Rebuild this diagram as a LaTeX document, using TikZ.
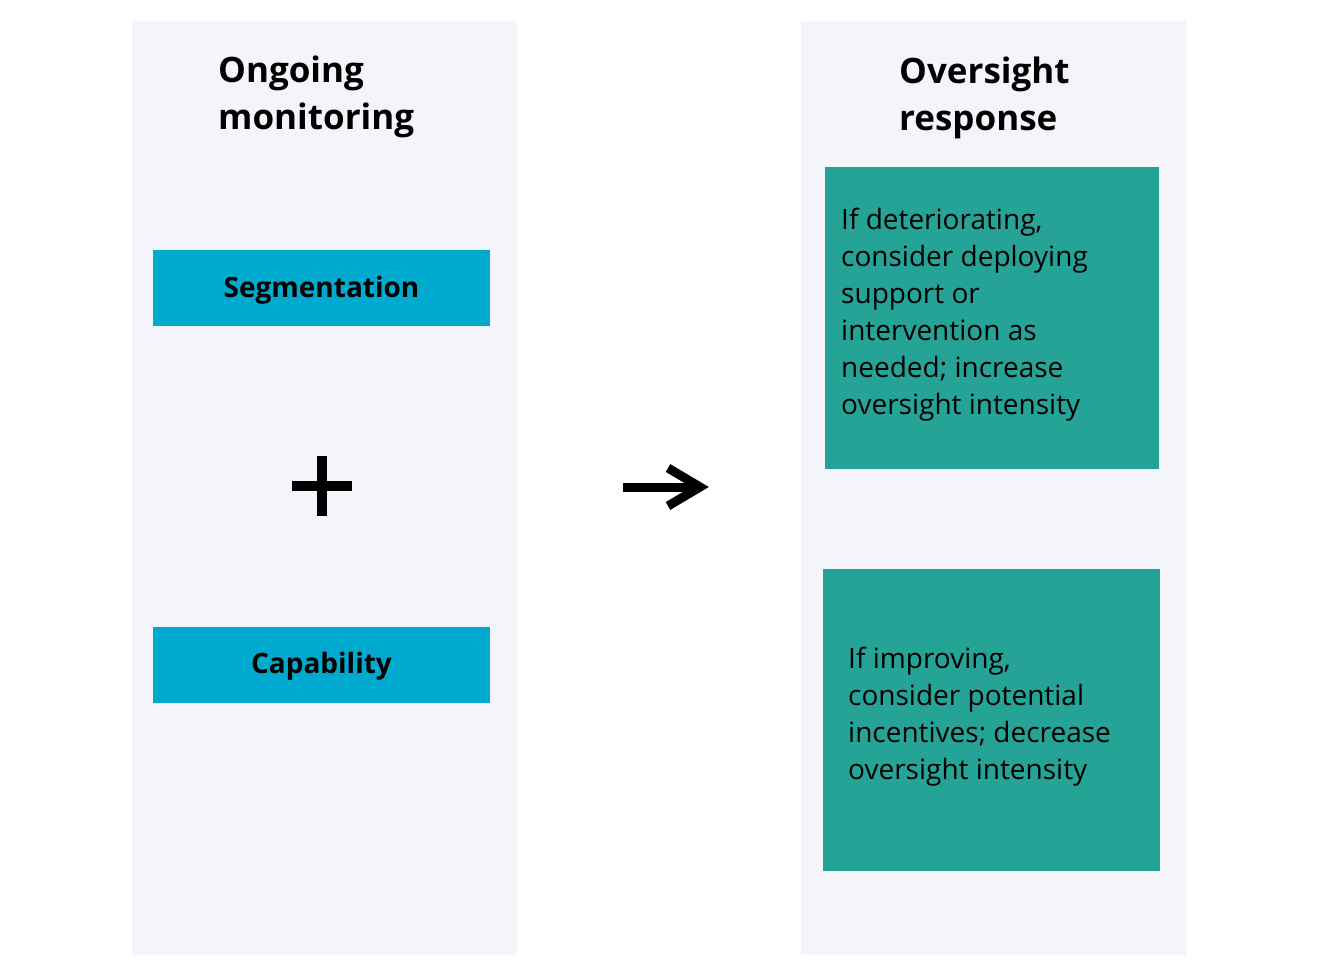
\documentclass[tikz,border=0pt]{standalone}
\usepackage{fontspec}
\setmainfont{Open Sans}
\definecolor{panel}{RGB}{244,245,251}
\definecolor{blueb}{RGB}{0,169,206}
\definecolor{teal}{RGB}{38,163,151}
\begin{document}
\begin{tikzpicture}[x=1pt,y=-1pt,
  title/.style={anchor=north west,align=left,font=\fontsize{35}{47}\selectfont\bfseries,inner sep=0},
  bluebox/.style={fill=blueb,font=\fontsize{28}{34}\selectfont\bfseries},
  body/.style={anchor=north west,align=left,font=\fontsize{28}{37}\selectfont,inner sep=0}]
\useasboundingbox (0,0) rectangle (1331,974);
\fill[panel] (132,21) rectangle (517,955);
\fill[panel] (801,21) rectangle (1186,955);
\node[title] (t1) at (218,56) {Ongoing\\monitoring};
\node[title] (t2) at (899,57) {Oversight\\response};
\fill[bluebox] (153,250) rectangle (490,326);
\node[font=\fontsize{28}{34}\selectfont\bfseries] (seg) at (321.5,290) {Segmentation};
\fill[bluebox] (153,627) rectangle (490,703);
\node[font=\fontsize{28}{34}\selectfont\bfseries] (cap) at (321.5,666) {Capability};
\draw[line width=10] (292,486) -- (352,486) (322,456) -- (322,516);
\draw[line width=9] (623,487) -- (698,487);
\draw[line width=9,miter limit=10] (668,468) -- (700,487) -- (668,506);
\fill[teal] (825,167) rectangle (1159,469);
\fill[teal] (823,569) rectangle (1160,871);
\node[body] (b1) at (841,208) {If deteriorating,\\consider deploying\\support or\\intervention as\\needed; increase\\oversight intensity};
\node[body] (b2) at (848,647) {If improving,\\consider potential\\incentives; decrease\\oversight intensity};
\end{tikzpicture}
\end{document}
